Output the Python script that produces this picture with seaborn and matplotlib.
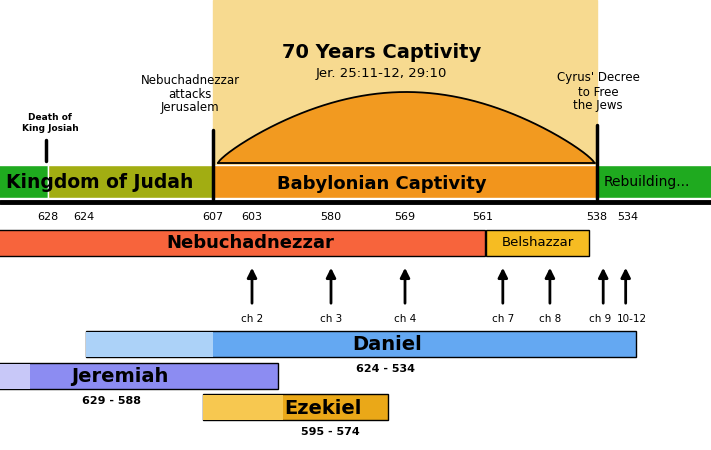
import numpy as np
import matplotlib.pyplot as plt
import seaborn as sns

sns.set_style("white")
plt.rcParams['font.family'] = ['DejaVu Sans']
plt.rcParams['text.color'] = 'black'

# piecewise (schematic) scale: year BC -> horizontal position
anchor_years = [640, 628, 624, 607, 603, 580, 569, 561, 538, 534, 520]
anchor_pos = [-60, 48, 84, 213, 252, 331, 405, 483, 597, 628, 740]

def X(year):
    return np.interp(-np.asarray(year, float), -np.array(anchor_years, float), anchor_pos)

tick_years = [628, 624, 607, 603, 580, 569, 561, 538, 534]
chapters = ['ch 2', 'ch 3', 'ch 4', 'ch 7', 'ch 8', 'ch 9', '10-12']
chapter_years = [603, 580, 569, 557, 547.5, 537.2, 534.3]

eras = ['', 'Kingdom of Judah', 'Babylonian Captivity', 'Rebuilding...']
era_start = [640, 628, 607, 538]
era_end = [628, 607, 538, 520]
era_colors = ['#1faa1f', '#a2ad12', '#f2951c', '#1faa1f']

fig = plt.figure(figsize=(7.11, 4.5), dpi=100)
ax = fig.add_axes([0, 0, 1, 1])
ax.set_xlim(0, 711)
ax.set_ylim(450, 0)
ax.axis('off')

# captivity background
x0, x1 = X(607), X(538)
ax.add_patch(plt.Rectangle((x0, 0), x1 - x0, 165, color='#f7da90', zorder=0))
# dome
t = np.linspace(0, 1, 200)
xs = X(606.5) + t * (X(538.5) - X(606.5))
ys = 163 - 71 * np.sin(np.pi * t) ** 0.8
ax.fill_between(xs, ys, 163, color='#f29a20', zorder=1)
ax.plot(xs, ys, color='black', lw=1.3, zorder=2)
ax.plot([xs[0], xs[-1]], [163, 163], color='black', lw=1.3, zorder=2)

# era strip
for name, s, e, c in zip(eras, era_start, era_end, era_colors):
    ax.barh(181, X(e) - X(s), left=X(s), height=33, color=c, zorder=3)
ax.text(6, 182, 'Kingdom of Judah', fontsize=13.5, fontweight='bold', va='center', zorder=4)
ax.text(X(572.5), 184, 'Babylonian Captivity', fontsize=13, fontweight='bold', ha='center', va='center', zorder=4)
ax.text(604, 182, 'Rebuilding...', fontsize=10, va='center', zorder=4)
ax.plot([0, 711], [201.5, 201.5], color='black', lw=3.5, zorder=4)

# markers
ax.plot([46, 46], [140, 161], color='black', lw=2.5)
ax.plot([X(607), X(607)], [130, 199], color='black', lw=2.5, zorder=5)
ax.plot([X(538), X(538)], [125, 199], color='black', lw=2.5, zorder=5)
ax.text(50, 123, 'Death of\nKing Josiah', fontsize=6.5, fontweight='bold', ha='center', va='center', linespacing=1.2)
ax.text(190, 94, 'Nebuchadnezzar\nattacks\nJerusalem', fontsize=8.5, ha='center', va='center', linespacing=1.1)
ax.text(598, 92, "Cyrus' Decree\nto Free\nthe Jews", fontsize=8.5, ha='center', va='center', linespacing=1.1)
ax.text(X(572.5), 52, '70 Years Captivity', fontsize=14, fontweight='bold', ha='center', va='center')
ax.text(X(572.5), 74, 'Jer. 25:11-12, 29:10', fontsize=9.5, ha='center', va='center')

for y in tick_years:
    ax.text(X(y), 217, str(y), fontsize=8, ha='center', va='center')

# kings
ax.barh(243, X(560.6) - X(634), left=X(634), height=26, color='#f7643c', edgecolor='black', lw=1)
ax.text(250, 243, 'Nebuchadnezzar', fontsize=13, fontweight='bold', ha='center', va='center')
ax.barh(243, X(539.7) - X(560.4), left=X(560.4), height=26, color='#f6bc22', edgecolor='black', lw=1)
ax.text(X(550), 243, 'Belshazzar', fontsize=9.5, ha='center', va='center')

# chapters
for name, y in zip(chapters, chapter_years):
    ax.annotate('', xy=(X(y), 265), xytext=(X(y), 306),
                arrowprops=dict(arrowstyle='-|>', color='black', lw=2, mutation_scale=14))
    dx = {'ch 9': -3, '10-12': 6}.get(name, 0)
    ax.text(X(y) + dx, 319, name, fontsize=7.5, ha='center', va='center')

def prophet(name, s, split, e, light, dark, y, label, lx, labx):
    ax.barh(y, X(e) - X(s), left=X(s), height=26, color=dark, edgecolor='black', lw=1)
    ax.barh(y, X(split) - X(s), left=X(s), height=25, color=light, lw=0)
    ax.text(lx, y + 1, name, fontsize=14, fontweight='bold', ha='center', va='center')
    ax.text(labx, y + 25, label, fontsize=8, fontweight='bold', ha='center', va='center')

prophet('Daniel', 623.8, 607, 533, '#acd2f8', '#64a8f2', 344, '624 - 534', 387, 385)
prophet('Jeremiah', 634, 630, 595.4, '#c8c8f8', '#8c8cf2', 376, '629 - 588', 120, 112)
prophet('Ezekiel', 608.3, 594.0, 571.5, '#f7c850', '#eaa818', 407, '595 - 574', 323, 330)

fig.savefig('out.png', dpi=100)
